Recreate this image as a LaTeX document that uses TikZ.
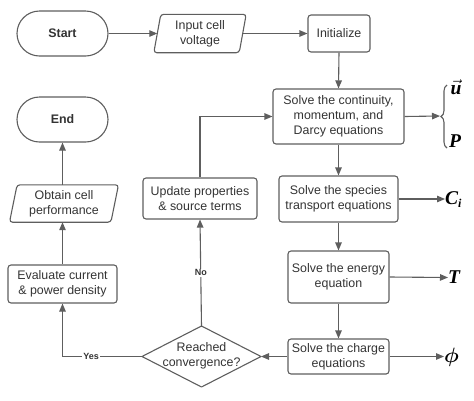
\documentclass[tikz,border=0pt]{standalone}
\usepackage{fontspec}
\setmainfont{Liberation Sans}
\newfontfamily\symfont{Liberation Serif}
\usetikzlibrary{arrows.meta,calc,decorations.pathreplacing,shapes.misc}
\definecolor{ln}{HTML}{5E5E5E}
\definecolor{tx}{HTML}{333333}
\newcommand{\sv}[1]{\mbox{\symfont\bfseries\itshape #1}}
\begin{document}
\begin{tikzpicture}[x=1pt,y=-1pt,
  lbl/.style={text=tx,font=\fontsize{12.4}{15}\selectfont,align=center,inner sep=0pt},
  box/.style={lbl,draw=ln,line width=1.1pt,rounded corners=3pt},
  term/.style={lbl,draw=ln,line width=1.1pt,rounded rectangle,font=\fontsize{12.4}{15}\selectfont\bfseries,minimum width=91pt,minimum height=45pt},
  para/.style={lbl},
  pshape/.style={draw=ln,line width=1.1pt,rounded corners=3pt},
  arr/.style={draw=ln,line width=1.1pt,-{Triangle[length=8pt,width=6.5pt]}},
  cond/.style={fill=white,text=tx,font=\fontsize{9}{10}\selectfont\bfseries,inner sep=1pt},
  sym/.style={inner sep=0pt,font=\fontsize{19.5}{20}\selectfont},
  bsym/.style={inner sep=0pt,font=\fontsize{19.5}{20}\selectfont\boldmath}
]
\useasboundingbox (0,0) rectangle (474,400);
% nodes
\node[term] (start) at (62.5,33.5) {Start};
\node[para,minimum width=85pt,minimum height=38pt] (input) at (200,33.5) {Input cell\\voltage};
\node[box,minimum width=62pt,minimum height=37pt] (init) at (339,33.5) {Initialize};
\node[box,minimum width=131pt,minimum height=55pt] (cont) at (338.5,116.5) {Solve the continuity,\\momentum, and\\Darcy equations};
\node[box,minimum width=119pt,minimum height=46pt] (spec) at (338.5,199) {Solve the species\\transport equations};
\node[box,minimum width=114pt,minimum height=41pt] (upd) at (200,198.5) {Update properties\\\& source terms};
\node[box,minimum width=101pt,minimum height=52pt] (energy) at (338.5,277) {Solve the energy\\equation};
\node[box,minimum width=101pt,minimum height=35pt] (charge) at (338.5,356.5) {Solve the charge\\equations};
\node[lbl] (conv) at (201.5,355.5) {Reached\\convergence?};
\node[box,minimum width=109pt,minimum height=38pt] (eval) at (62.5,284) {Evaluate current\\\& power density};
\node[para,minimum width=101pt,minimum height=37pt] (obtain) at (64,203.5) {Obtain cell\\performance};
\node[term] (end) at (62.5,119.5) {End};
% parallelograms
\draw[pshape] ($(input.south west)+(-3.5,0)$) -- ($(input.north west)+(3.5,0)$) -- ($(input.north east)+(3.5,0)$) -- ($(input.south east)+(-3.5,0)$) -- cycle;
\draw[pshape] ($(obtain.south west)+(-3.8,0)$) -- ($(obtain.north west)+(3.8,0)$) -- ($(obtain.north east)+(3.8,0)$) -- ($(obtain.south east)+(-3.8,0)$) -- cycle;
% diamond
\coordinate (convL) at (142,356.5);
\coordinate (convT) at (201.5,326);
\coordinate (convR) at (261,356.5);
\coordinate (convB) at (201.5,387);
\draw[draw=ln,line width=1.1pt,line join=round] (convL) -- (convT) -- (convR) -- (convB) -- cycle;
% symbols
\coordinate (bracetip) at (440,116);
\draw[draw=ln,line width=1.1pt,decorate,decoration={brace,amplitude=6pt}] (447,148) -- (447,85);
\node[sym] (u) at (456,87) {$\vec{\sv{u}}$};
\node[sym] (P) at (455,141) {\sv{P}};
\node[sym,anchor=west] (C) at (445,200) {\sv{C}\raisebox{-3pt}{\fontsize{12}{12}\selectfont\sv{i}}};
\node[sym,anchor=west] (T) at (448,277.5) {\sv{T}};
\node[bsym,anchor=west] (phi) at (444,357.5) {$\phi$};
% connectors
\draw[arr] (start.east) -- (input.west);
\draw[arr] (input.east) -- (init.west);
\draw[arr] (init.south) -- (cont.north);
\draw[arr] (cont.south) -- (spec.north);
\draw[arr] (spec.south) -- (energy.north);
\draw[arr] (energy.south) -- (charge.north);
\draw[arr] (charge.west) -- (convR);
\draw[arr] (convT) -- node[cond,midway] {No} (upd.south);
\draw[arr] (upd.north) |- (cont.west);
\draw[arr] (convL) -| node[cond,pos=0.32] {Yes} (eval.south);
\draw[arr] (eval.north) -- (eval.north |- obtain.south);
\draw[arr] (obtain.north -| end.south) -- (end.south);
\draw[arr] (cont.east) -- (bracetip);
\draw[arr] (spec.east) -- (C.west |- spec.east);
\draw[arr] (energy.east) -- (T.west);
\draw[arr] (charge.east) -- (phi.west |- charge.east);
\end{tikzpicture}
\end{document}
